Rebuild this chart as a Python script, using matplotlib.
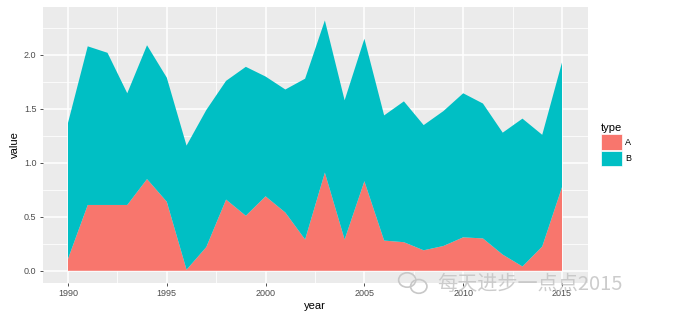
import matplotlib
matplotlib.use("Agg")
import matplotlib.pyplot as plt
from matplotlib.patches import Ellipse
import numpy as np

years = list(range(1990, 2016))
value_a = [0.11, 0.61, 0.61, 0.61, 0.85, 0.64, 0.01, 0.22, 0.66, 0.51, 0.69, 0.54, 0.29,
           0.91, 0.29, 0.83, 0.28, 0.265, 0.19, 0.23, 0.31, 0.30, 0.15, 0.04, 0.225, 0.775]
total = [1.37, 2.08, 2.02, 1.645, 2.09, 1.79, 1.16, 1.49, 1.76, 1.89, 1.80, 1.68, 1.78,
         2.32, 1.58, 2.15, 1.44, 1.57, 1.35, 1.48, 1.645, 1.55, 1.28, 1.41, 1.26, 1.93]
value_b = [t - a for t, a in zip(total, value_a)]
types = ["A", "B"]
colors = ["#F8766D", "#00BFC4"]
xticks = [1990, 1995, 2000, 2005, 2010, 2015]
yticks = [0.0, 0.5, 1.0, 1.5, 2.0]

plt.rcParams['font.family'] = ['Liberation Sans', 'DejaVu Sans']

fig = plt.figure(figsize=(6.82, 3.2), dpi=100)
ax = fig.add_axes([0.0626, 0.116, 0.7991, 0.863])
ax.set_facecolor("#EBEBEB")

ax.stackplot(years, value_a, value_b, colors=colors, labels=types, linewidth=0)

ax.set_xlim(1988.72, 2016.3)
ax.set_ylim(-0.112, 2.447)
ax.set_xticks(xticks)
ax.set_xticklabels([str(x) for x in xticks])
ax.set_yticks(yticks)
ax.set_yticklabels([f"{y:.1f}" for y in yticks])
ax.set_xticks([1992.5, 1997.5, 2002.5, 2007.5, 2012.5], minor=True)
ax.set_yticks([0.25, 0.75, 1.25, 1.75, 2.25], minor=True)
ax.grid(which="major", color="white", linewidth=1.1)
ax.grid(which="minor", color="white", linewidth=0.55)
ax.set_axisbelow(True)
for s in ax.spines.values():
    s.set_visible(False)
ax.tick_params(which="major", length=2.5, width=0.6, color="#333333",
               labelsize=6.5, labelcolor="#4D4D4D", pad=2)
ax.tick_params(which="minor", length=0)

ax.set_xlabel("year", fontsize=8, color="black", labelpad=2)
ax.set_ylabel("value", fontsize=8, color="black", labelpad=3)

leg = ax.legend(loc="center left", bbox_to_anchor=(1.018, 0.5), frameon=False,
                title="type", fontsize=6.5, title_fontsize=8,
                handlelength=2.3, handleheight=2.3, handletextpad=0.4,
                labelspacing=0.1, borderaxespad=0)
leg._legend_box.align = "left"
for h in leg.legend_handles:
    h.set_edgecolor("white")
    h.set_linewidth(0.5)

# watermark
fig.text(0.641, 0.1125, "每天进步一点点2015", fontsize=14.5, color="#C4C4C4", alpha=0.85,
         family=['Noto Sans CJK SC', 'DejaVu Sans'], va="center", ha="left")
fig.add_artist(Ellipse((0.597, 0.125), 0.025, 0.045, transform=fig.transFigure,
                       fill=False, edgecolor="#C8C8C8", linewidth=1.2))
fig.add_artist(Ellipse((0.614, 0.105), 0.024, 0.043, transform=fig.transFigure,
                       fill=False, edgecolor="#C8C8C8", linewidth=1.2))

fig.savefig("out.png", dpi=100)
